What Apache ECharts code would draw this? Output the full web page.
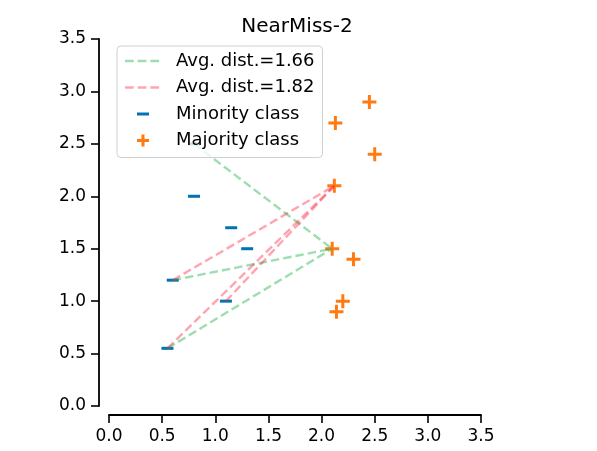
<!DOCTYPE html>
<html>
<head>
<meta charset="utf-8">
<script src="https://cdn.jsdelivr.net/npm/echarts@6/dist/echarts.min.js"></script>
<style>
  html, body { margin: 0; padding: 0; background: #fff; }
  #chart { width: 597px; height: 451px; }
</style>
</head>
<body>
<div id="chart"></div>
<script>
// data
const minorityX = [1.1, 1.3, 1.15, 0.8, 0.8, 0.6, 0.55]
const minorityY = [1.0, 1.5, 1.7, 2.5, 2.0, 1.2, 0.55]
const majorityX = [2.1, 2.12, 2.13, 2.14, 2.2, 2.3, 2.5, 2.45]
const majorityY = [1.5, 2.1, 2.7, 0.9, 1.0, 1.4, 2.4, 2.9]

// which minority points are linked to which majority point
const greenFrom = [3, 5, 6]   // -> majority 0
const greenTo = 0
const redFrom = [5, 6, 0]     // -> majority 1
const redTo = 1

const greenName = 'Avg. dist.=1.66'
const redName = 'Avg. dist.=1.82'

const FONT = 'DejaVu Sans'
const green = 'rgba(40,180,80,0.45)'
const red = 'rgba(255,30,60,0.4)'

const myChart = echarts.init(document.getElementById('chart'))

const minority = minorityX.map((x, i) => [x, minorityY[i]])
const majority = majorityX.map((x, i) => [x, majorityY[i]])

const segment = (name, color, from, to) => from.map(i => ({
  name: name,
  type: 'line',
  data: [minority[i], majority[to]],
  symbol: 'none',
  silent: true,
  color: color,
  lineStyle: { color: color, width: 2.4, type: [8.5, 4] },
  z: 3
}))

// legend icons (padded to the 36x14 icon box so they are not stretched)
const dashIcon = 'path://M0 0M36 14M0 5.8H8.7V8.2H0Z M12.7 5.8H21.4V8.2H12.7Z M25.4 5.8H34.1V8.2H25.4Z'
const minusIcon = 'path://M0 0M36 14M12 5.5H24V8.5H12Z'
const plusIcon = 'path://M0 0M36 14M12 5.5H24V8.5H12Z M16.5 1H19.5V13H16.5Z'

const axisCommon = {
  type: 'value',
  min: 0,
  max: 3.5,
  interval: 0.5,
  splitLine: { show: false },
  axisLine: { show: true, onZero: false, lineStyle: { color: '#000', width: 1.8 } },
  axisTick: { show: true, length: 8, lineStyle: { color: '#000', width: 1.6 } },
  axisLabel: {
    color: '#000', fontSize: 17, fontFamily: FONT,
    formatter: v => v.toFixed(1)
  }
}

const option = {
  animation: false,
  backgroundColor: '#fff',
  title: {
    text: 'NearMiss-2',
    left: 292,
    textAlign: 'center',
    top: 12,
    textStyle: { fontFamily: FONT, fontSize: 20, fontWeight: 'normal', color: '#000' }
  },
  legend: {
    left: 117,
    top: 46,
    orient: 'vertical',
    backgroundColor: 'rgba(255,255,255,0.8)',
    borderColor: '#d0d0d0',
    borderWidth: 1,
    borderRadius: 4,
    padding: [5, 8, 7, 8],
    itemWidth: 36,
    itemHeight: 14,
    itemGap: 6.5,
    z: 10,
    textStyle: { fontFamily: FONT, fontSize: 18, color: '#000', lineHeight: 20, padding: [0, 0, 0, 10] },
    data: [
      { name: greenName, icon: dashIcon, itemStyle: { color: green } },
      { name: redName, icon: dashIcon, itemStyle: { color: red } },
      { name: 'Minority class', icon: minusIcon },
      { name: 'Majority class', icon: plusIcon }
    ]
  },
  grid: { left: 109, right: 116, top: 39, bottom: 45, containLabel: false, outerBoundsMode: 'none' },
  xAxis: Object.assign({}, axisCommon, {
    offset: 9,
    axisLabel: Object.assign({}, axisCommon.axisLabel, { margin: 13 })
  }),
  yAxis: Object.assign({}, axisCommon, {
    offset: 10,
    axisLabel: Object.assign({}, axisCommon.axisLabel, { margin: 13 })
  }),
  series: [
    {
      name: 'Minority class',
      type: 'scatter',
      data: minority,
      symbol: 'path://M0 0H12V3H0Z',
      symbolSize: [12, 3],
      itemStyle: { color: '#0173b2', opacity: 1 },
      z: 2
    },
    {
      name: 'Majority class',
      type: 'scatter',
      data: majority,
      symbol: 'path://M5.5 0H8.5V14H5.5Z M0 5.5H14V8.5H0Z',
      symbolSize: 14,
      itemStyle: { color: '#ff7b12', opacity: 1 },
      z: 2
    }
  ].concat(segment(greenName, green, greenFrom, greenTo))
   .concat(segment(redName, red, redFrom, redTo))
}

myChart.setOption(option)
</script>
</body>
</html>
